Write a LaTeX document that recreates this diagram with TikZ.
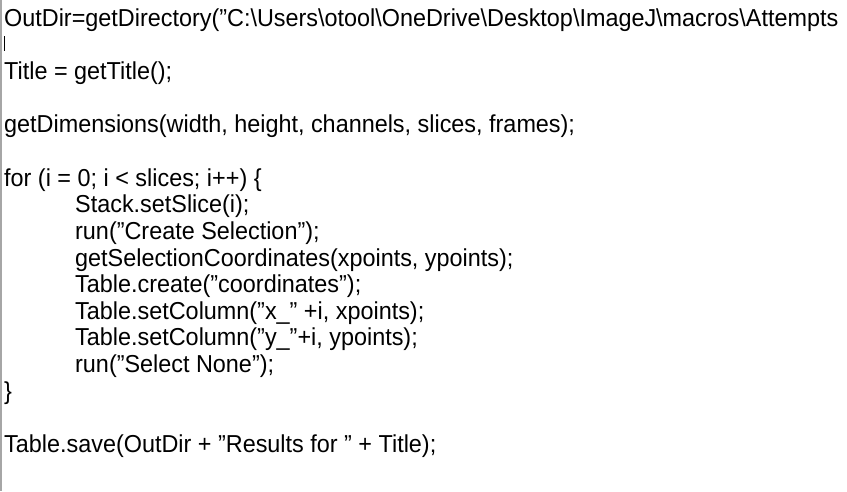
\documentclass[tikz,border=0pt]{standalone}
\usepackage{fontspec}
\setmainfont[Ligatures=NoCommon]{Liberation Sans}
\usetikzlibrary{positioning}
\newcommand{\dq}{\symbol{34}}

\begin{document}
\begin{tikzpicture}[x=1pt,y=-1pt,code line/.style={anchor=west,inner sep=0pt,font=\fontsize{24.5}{28}\selectfont,xscale=0.955}]

            \useasboundingbox (0,0) rectangle (847,491);
            \fill[white] (0,0) rectangle (847,491);
            \draw[gray!70,line width=1.2pt] (1,0) -- (1,491);
            \draw[black,line width=0.8pt] (4,36) -- (4,51);

            \node[code line] (outdir) at (4,20) {OutDir=getDirectory(\dq C:\textbackslash Users\textbackslash otool\textbackslash OneDrive\textbackslash Desktop\textbackslash ImageJ\textbackslash macros\textbackslash Attempts};
            \node[code line] (title) at (4,73) {Title = getTitle();};
            \node[code line] (dims) at (4,126) {getDimensions(width, height, channels, slices, frames);};
            \node[code line] (loop) at (4,180) {for (i = 0; i < slices; i++) \{};

            % loop body
            \foreach \txt [count=\k] in {
                {Stack.setSlice(i);},
                {run(\dq Create Selection\dq);},
                {getSelectionCoordinates(xpoints, ypoints);},
                {Table.create(\dq coordinates\dq);},
                {Table.setColumn(\dq x\_\dq{} +i, xpoints);},
                {Table.setColumn(\dq y\_\dq+i, ypoints);},
                {run(\dq Select None\dq);}
            }{
                \node[code line] (body\k) at (75,{180+26.6*\k}) {\txt};
            }

            \node[code line] (close) at (4,393) {\}};
            \node[code line] (save) at (4,446) {Table.save(OutDir + \dq Results for \dq{} + Title);};

        \end{tikzpicture}
\end{document}
